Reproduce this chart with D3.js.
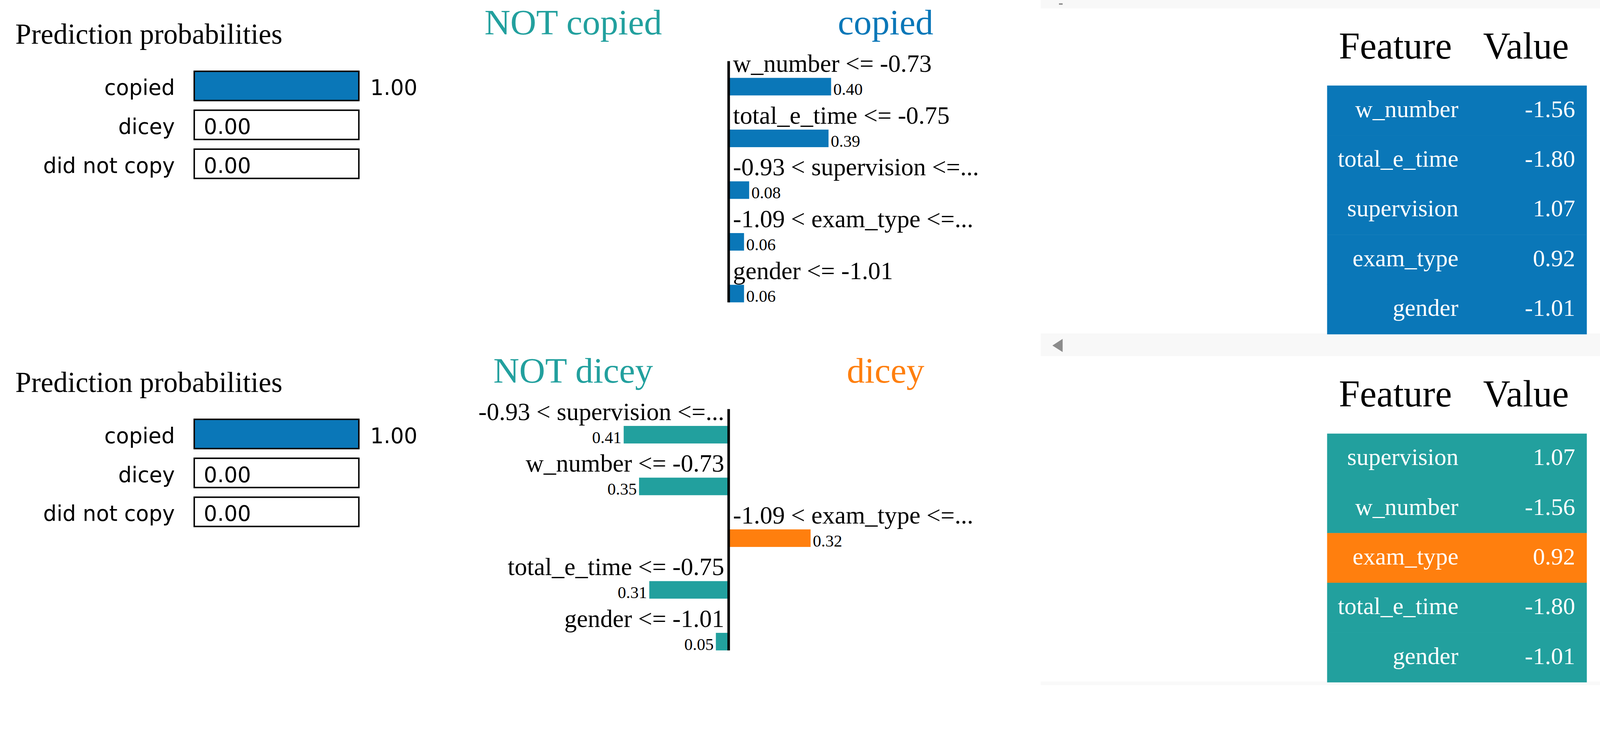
<!DOCTYPE html>
<html>
<head>
<meta charset="utf-8">
<script src="https://cdn.jsdelivr.net/npm/d3@7"></script>
<style>
  html, body { margin: 0; padding: 0; background: #fff; overflow: hidden; }
  #chart svg { display: block; width: 100vw; height: calc(100vw * 1898 / 4374); }
</style>
</head>
<body>
<div id="chart"></div>
<script>
  // prediction probabilities
  const probClasses = ['copied', 'dicey', 'did not copy'];
  const probValues = [1.00, 0.00, 0.00];

  // explanation for class "copied"
  const copiedFeatures = ['w_number <= -0.73', 'total_e_time <= -0.75', '-0.93 < supervision <=...', '-1.09 < exam_type <=...', 'gender <= -1.01'];
  const copiedWeights = [0.40, 0.39, 0.08, 0.06, 0.06];
  const copiedTableNames = ['w_number', 'total_e_time', 'supervision', 'exam_type', 'gender'];
  const copiedTableValues = [-1.56, -1.80, 1.07, 0.92, -1.01];

  // explanation for class "dicey"
  const diceyFeatures = ['-0.93 < supervision <=...', 'w_number <= -0.73', '-1.09 < exam_type <=...', 'total_e_time <= -0.75', 'gender <= -1.01'];
  const diceyWeights = [-0.41, -0.35, 0.32, -0.31, -0.05];
  const diceyTableNames = ['supervision', 'w_number', 'exam_type', 'total_e_time', 'gender'];
  const diceyTableValues = [1.07, -1.56, 0.92, -1.80, -1.01];

  const BLUE = '#0a77b8';
  const ORANGE = '#ff7f0e';
  const TEAL = '#22a09e';
  const SERIF = '"Liberation Serif", "Times New Roman", serif';
  const SANS = '"DejaVu Sans", Verdana, sans-serif';

  // drawn in a fixed 4374 x 1898 coordinate space, scaled to the window width
  const W = 4374, H = 1898;
  const svg = d3.select('#chart').append('svg')
    .attr('viewBox', `0 0 ${W} ${H}`)
    .attr('preserveAspectRatio', 'xMinYMin meet');

  // plain hyphen for negatives, like the notebook output
  const fmt = d3.formatLocale({ decimal: '.', thousands: ',', grouping: [3], currency: ['', ''], minus: '-' }).format('.2f');

  const sections = [
    { cls: 'copied', color: BLUE, features: copiedFeatures, weights: copiedWeights,
      tableNames: copiedTableNames, tableValues: copiedTableValues },
    { cls: 'dicey', color: ORANGE, features: diceyFeatures, weights: diceyWeights,
      tableNames: diceyTableNames, tableValues: diceyTableValues }
  ];

  // scrollbar strips from the notebook output boxes
  svg.append('rect').attr('x', 2845).attr('y', 0).attr('width', W - 2845).attr('height', 23).attr('fill', '#f8f8f8');
  svg.append('rect').attr('x', 2895).attr('y', 9).attr('width', 10).attr('height', 4).attr('fill', '#8c8c8c');
  svg.append('rect').attr('x', 2845).attr('y', 912).attr('width', W - 2845).attr('height', 62).attr('fill', '#f8f8f8');
  svg.append('path').attr('d', 'M2877,945 L2905,927 L2905,963 Z').attr('fill', '#8c8c8c');
  svg.append('rect').attr('x', 2845).attr('y', 1864).attr('width', W - 2845).attr('height', 10).attr('fill', '#f9f9f9');

  sections.forEach((s, k) => {
    const g = svg.append('g').attr('transform', `translate(0, ${k * 952})`);

    // ---- prediction probabilities ----
    g.append('text')
      .attr('x', 42).attr('y', 120)
      .style('font-family', SERIF).style('font-size', '78px')
      .text('Prediction probabilities');

    const pX = d3.scaleLinear().domain([0, 1]).range([531, 981]);
    const pY = d3.scaleBand().domain(probClasses).range([182, 182 + 3 * 106.5]);
    const probColor = d3.scaleOrdinal().domain(probClasses).range([BLUE, ORANGE, TEAL]);

    const rows = g.selectAll('.prob').data(probClasses).enter().append('g').attr('class', 'prob');
    rows.append('rect')
      .attr('x', pX(0)).attr('y', d => pY(d) + 13)
      .attr('width', (d, i) => pX(probValues[i]) - pX(0))
      .attr('height', 80)
      .attr('fill', d => probColor(d));
    rows.append('rect')
      .attr('x', pX(0)).attr('y', d => pY(d) + 13)
      .attr('width', pX(1) - pX(0)).attr('height', 80)
      .attr('fill', 'none').attr('stroke', '#000').attr('stroke-width', 4);
    rows.append('text')
      .attr('x', 478).attr('y', d => pY(d) + 78)
      .attr('text-anchor', 'end')
      .style('font-family', SANS).style('font-size', '58px')
      .text(d => d);
    rows.append('text')
      .attr('x', (d, i) => probValues[i] > 0.5 ? pX(probValues[i]) + 31 : pX(0) + 26)
      .attr('y', d => pY(d) + 78)
      .style('font-family', SANS).style('font-size', '58px')
      .text((d, i) => fmt(probValues[i]));

    // ---- explanation bars ----
    const axisX = 1992;
    const x = d3.scaleLinear().domain([-1, 1]).range([axisX - 700, axisX + 700]);
    const y = d3.scaleBand().domain(d3.range(s.features.length)).range([165, 165 + 5 * 141.5]);

    g.append('text')
      .attr('x', 1567).attr('y', 94).attr('text-anchor', 'middle')
      .style('font-family', SERIF).style('font-size', '98px').attr('fill', TEAL)
      .text('NOT ' + s.cls);
    g.append('text')
      .attr('x', 2421).attr('y', 94).attr('text-anchor', 'middle')
      .style('font-family', SERIF).style('font-size', '98px').attr('fill', s.color)
      .text(s.cls);

    const bars = g.selectAll('.feat').data(s.features).enter().append('g').attr('class', 'feat');
    bars.append('rect')
      .attr('x', (d, i) => Math.min(x(0), x(s.weights[i])))
      .attr('y', (d, i) => y(i) + 48)
      .attr('width', (d, i) => Math.abs(x(s.weights[i]) - x(0)))
      .attr('height', 48)
      .attr('fill', (d, i) => s.weights[i] > 0 ? s.color : TEAL);
    bars.append('text')
      .attr('x', (d, i) => s.weights[i] > 0 ? axisX + 12 : axisX - 12)
      .attr('y', (d, i) => y(i) + 32)
      .attr('text-anchor', (d, i) => s.weights[i] > 0 ? 'start' : 'end')
      .style('font-family', SERIF).style('font-size', '68px')
      .text(d => d);
    bars.append('text')
      .attr('x', (d, i) => s.weights[i] > 0 ? x(s.weights[i]) + 6 : x(s.weights[i]) - 6)
      .attr('y', (d, i) => y(i) + 95)
      .attr('text-anchor', (d, i) => s.weights[i] > 0 ? 'start' : 'end')
      .style('font-family', SERIF).style('font-size', '46px')
      .text((d, i) => fmt(Math.abs(s.weights[i])));

    g.append('line')
      .attr('x1', axisX).attr('x2', axisX)
      .attr('y1', y(0) + 2).attr('y2', y(s.features.length - 1) + 96)
      .attr('stroke', '#000').attr('stroke-width', 7);

    // ---- feature / value table ----
    g.append('text')
      .attr('x', 3969).attr('y', 160).attr('text-anchor', 'end')
      .style('font-family', SERIF).style('font-size', '103px')
      .text('Feature');
    g.append('text')
      .attr('x', 4289).attr('y', 160).attr('text-anchor', 'end')
      .style('font-family', SERIF).style('font-size', '103px')
      .text('Value');

    const ty = d3.scaleBand().domain(d3.range(s.tableNames.length)).range([234, 914]);
    const rowColor = name => {
      const idx = s.features.findIndex(f => f.includes(name));
      return s.weights[idx] > 0 ? s.color : TEAL;
    };
    const trows = g.selectAll('.trow').data(s.tableNames).enter().append('g').attr('class', 'trow');
    trows.append('rect')
      .attr('x', 3628).attr('y', (d, i) => ty(i))
      .attr('width', 4338 - 3628).attr('height', ty.bandwidth() + 0.5)
      .attr('fill', d => rowColor(d));
    trows.append('text')
      .attr('x', 3987).attr('y', (d, i) => ty(i) + ty.bandwidth() / 2 + 18)
      .attr('text-anchor', 'end').attr('fill', '#fff')
      .style('font-family', SERIF).style('font-size', '66px')
      .text(d => d);
    trows.append('text')
      .attr('x', 4306).attr('y', (d, i) => ty(i) + ty.bandwidth() / 2 + 18)
      .attr('text-anchor', 'end').attr('fill', '#fff')
      .style('font-family', SERIF).style('font-size', '66px')
      .text((d, i) => fmt(s.tableValues[i]));
  });
</script>
</body>
</html>
